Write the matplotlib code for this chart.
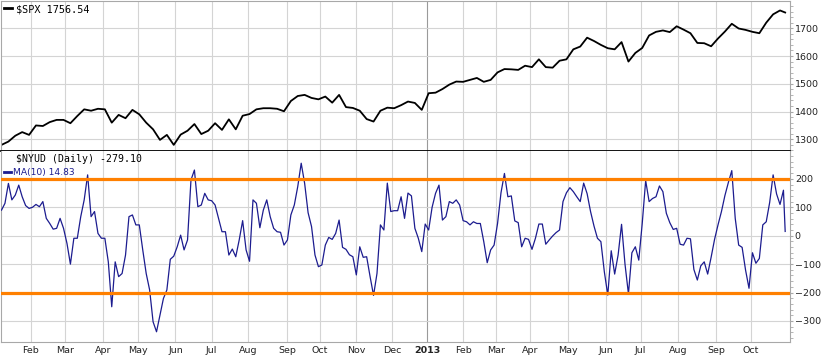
import matplotlib
matplotlib.use("Agg")
import matplotlib.pyplot as plt
from matplotlib.lines import Line2D
from matplotlib.ticker import MultipleLocator
import numpy as np
import pandas as pd

# NYSE holidays inside the charted range
holidays = ["2012-01-16", "2012-02-20", "2012-04-06", "2012-05-28", "2012-07-04",
            "2012-09-03", "2012-10-29", "2012-10-30", "2012-11-22", "2012-12-25",
            "2013-01-01", "2013-01-21", "2013-02-18", "2013-03-29", "2013-05-27",
            "2013-07-04", "2013-09-02"]
dates = pd.bdate_range("2012-01-06", "2013-10-31", freq="C", holidays=holidays)

# $SPX close, read every 4 trading days (last point = last close)
spx_days = list(range(0, 453, 4)) + [455]
spx_close = [1280, 1292, 1313, 1326, 1316, 1350, 1348, 1362, 1370, 1370,
             1358, 1384, 1408, 1403, 1410, 1408, 1360, 1388, 1376, 1406,
             1390, 1360, 1336, 1298, 1316, 1280, 1317, 1331, 1355, 1319,
             1331, 1358, 1334, 1372, 1336, 1385, 1391, 1408, 1412, 1412,
             1410, 1401, 1438, 1456, 1460, 1449, 1444, 1454, 1432, 1460,
             1416, 1413, 1403, 1373, 1364, 1403, 1414, 1412, 1423, 1436,
             1431, 1406, 1466, 1468, 1481, 1497, 1508, 1507, 1514, 1521,
             1507, 1514, 1541, 1553, 1552, 1550, 1565, 1560, 1588, 1560,
             1558, 1583, 1588, 1624, 1634, 1666, 1654, 1640, 1628, 1624,
             1650, 1580, 1611, 1629, 1674, 1687, 1692, 1686, 1707, 1695,
             1682, 1647, 1646, 1635, 1663, 1688, 1716, 1699, 1694, 1687,
             1682, 1720, 1750, 1764, 1756.54]

# $NYUD MA(10), read every 2 trading days
osc_days = list(range(0, 455, 2)) + [455]
nyud_ma10 = [90, 114, 184, 126, 143, 178, 137, 106, 96, 100,
             110, 102, 120, 61, 43, 23, 26, 61, 26, -27,
             -100, -9, -9, 67, 126, 214, 67, 85, 8, -9,
             -9, -92, -250, -92, -144, -133, -68, 67, 73, 38,
             38, -50, -133, -191, -303, -338, -279, -221, -191, -83,
             -72, -39, 2, -50, -15, 196, 231, 102, 108, 149,
             126, 123, 108, 61, 14, 14, -68, -47, -74, -15,
             53, -50, -90, 126, 114, 28, 90, 126, 67, 26,
             14, 12, -33, -15, 73, 108, 173, 255, 184, 81,
             32, -68, -109, -103, -33, -6, -13, 8, 55, -41,
             -48, -67, -74, -138, -39, -76, -74, -144, -210, -133,
             38, 20, 185, 85, 88, 88, 137, 61, 150, 140,
             26, -9, -56, 41, 20, 100, 149, 178, 55, 67,
             120, 114, 126, 108, 53, 49, 38, 49, 43, 43,
             -21, -95, -50, -33, 43, 151, 219, 137, 140, 52,
             46, -39, -9, -13, -48, -9, 41, 41, -30, -15,
             -1, 11, 20, 120, 151, 169, 155, 137, 120, 185,
             148, 85, 34, -9, -21, -127, -209, -53, -135, -68,
             40, -100, -205, -60, -39, -86, 43, 194, 120, 131,
             137, 175, 155, 79, 46, 22, 26, -30, -33, -9,
             -11, -119, -156, -106, -92, -135, -76, -13, 38, 85,
             141, 187, 229, 61, -33, -41, -121, -185, -60, -97,
             -80, 38, 49, 117, 214, 147, 110, 160, 15]

band_levels = [200, -200]

navy = "#1c1c8f"
orange = "#ff8000"
grid_c = "#d4d4d4"
frame_c = "#a8a8a8"

# month gridlines at the first trading day of every month
month_idx = [i for i in range(1, len(dates)) if dates[i].month != dates[i - 1].month]
month_lab = ["2013" if dates[i].month == 1 else dates[i].strftime("%b") for i in month_idx]

fig = plt.figure(figsize=(8.23, 3.57), dpi=100)
ax1 = fig.add_axes([1 / 823, 1 - 151 / 357, 789 / 823, 150 / 357])
ax2 = fig.add_axes([1 / 823, 1 - 342 / 357, 789 / 823, 191 / 357])

for ax in (ax1, ax2):
    ax.set_xlim(-0.3, 457.8)
    for i, lab in zip(month_idx, month_lab):
        ax.axvline(i, color="#9a9a9a" if lab == "2013" else grid_c, lw=0.8, zorder=0)
    ax.yaxis.tick_right()
    ax.yaxis.grid(True, color=grid_c, lw=0.8)
    ax.set_axisbelow(True)
    ax.tick_params(axis="y", which="both", direction="out", length=2, color=frame_c,
                   labelsize=6.8, pad=1.5, labelcolor="#222222")
    ax.tick_params(axis="x", length=0)
    for s in ax.spines.values():
        s.set_color(frame_c)
        s.set_linewidth(0.8)

# top: price
ax1.plot(spx_days, spx_close, color="black", lw=1.3)
ax1.set_ylim(1258, 1798)
ax1.yaxis.set_major_locator(MultipleLocator(100))
ax1.yaxis.set_minor_locator(MultipleLocator(20))
ax1.set_xticks([])
ax1.spines["bottom"].set_color("black")
ax1.spines["bottom"].set_linewidth(1.3)
ax1.legend(handles=[Line2D([], [], color="black", lw=2)], labels=[r"\$SPX 1756.54"],
           loc="upper left", frameon=False, handlelength=0.8, handletextpad=0.4,
           borderaxespad=0.1, borderpad=0.2, prop={"family": "DejaVu Sans Mono", "size": 7.3})

# bottom: breadth oscillator
ax2.plot(osc_days, nyud_ma10, color=navy, lw=0.9, zorder=3)
for lvl in band_levels:
    ax2.axhline(lvl, color=orange, lw=2.3, zorder=4)
ax2.set_ylim(-374, 298)
ax2.yaxis.set_major_locator(MultipleLocator(100))
ax2.yaxis.set_minor_locator(MultipleLocator(20))
ax2.spines["top"].set_visible(False)
ax2.set_xticks(month_idx)
ax2.set_xticklabels(month_lab, fontsize=6.8, color="#222222")
for t in ax2.get_xticklabels():
    if t.get_text() == "2013":
        t.set_fontweight("bold")
ax2.tick_params(axis="x", pad=3)
ax2.annotate(r"\$NYUD (Daily) -279.10", xy=(0, 1), xycoords="axes fraction",
             xytext=(15, -3), textcoords="offset pixels", fontsize=7.1,
             family="DejaVu Sans Mono", va="top", ha="left")
ax2.legend(handles=[Line2D([], [], color=navy, lw=2)], labels=["MA(10) 14.83"],
           loc="upper left", bbox_to_anchor=(0, 0.925), frameon=False, handlelength=0.8,
           handletextpad=0.2, borderaxespad=0.1, borderpad=0.2, labelcolor=navy,
           prop={"size": 6.6})

fig.savefig("out.png", dpi=100)
